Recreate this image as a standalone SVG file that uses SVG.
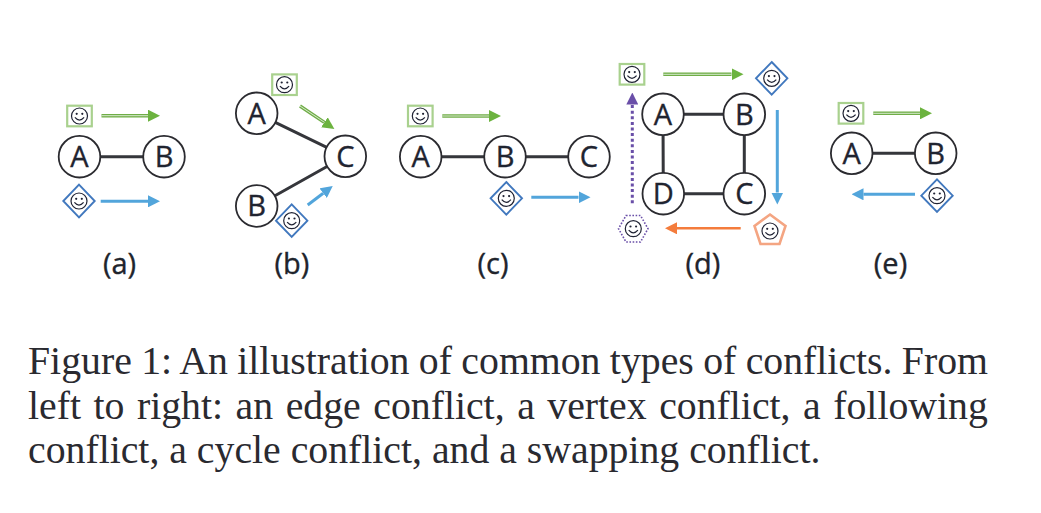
<svg xmlns="http://www.w3.org/2000/svg" width="1041" height="513" viewBox="0 0 1041 513">
<style>
.n{fill:#fff;stroke:#2b2b30;stroke-width:1.8}
.l{font:29px "Open Sans",sans-serif;fill:#1f2430;stroke:#1f2430;stroke-width:.35;text-anchor:middle}
.c{font:29px "Open Sans",sans-serif;fill:#20242c;stroke:#20242c;stroke-width:.35;text-anchor:middle}
.e{stroke:#35363b;stroke-width:3;fill:none}
.g{stroke:#70ad47;stroke-width:3.4;fill:none}
.gi{stroke:#d8ead0;stroke-width:1;fill:none}
.b{stroke:#52a5db;stroke-width:3;fill:none}
.o{stroke:#f47c3c;stroke-width:2.6;fill:none}
.p{stroke:#6a4fa8;stroke-width:3;stroke-dasharray:3 2.6;fill:none}
.cap{font:39.75px "Liberation Serif",serif;fill:#2a2a30}
.sf{fill:none;stroke:#1f2233;stroke-width:1.2}
</style>
<defs>
<marker id="ag" markerUnits="userSpaceOnUse" markerWidth="12" markerHeight="12" refX="0" refY="6" orient="auto"><path d="M0 0L12 6L0 12Z" fill="#6cb33f"/></marker>
<marker id="ab" markerUnits="userSpaceOnUse" markerWidth="12" markerHeight="12" refX="0" refY="6" orient="auto"><path d="M0 0L12 6L0 12Z" fill="#52a5db"/></marker>
<marker id="ao" markerUnits="userSpaceOnUse" markerWidth="12" markerHeight="12" refX="0" refY="6" orient="auto"><path d="M0 0L12 6L0 12Z" fill="#f47c3c"/></marker>
<marker id="ap" markerUnits="userSpaceOnUse" markerWidth="12" markerHeight="12" refX="0" refY="6" orient="auto"><path d="M0 0L12 6L0 12Z" fill="#6a4fa8"/></marker>
<g id="s"><circle r="8" class="sf"/><circle cx="-2.8" cy="-2.2" r="1.1" fill="#1f2233"/><circle cx="2.8" cy="-2.2" r="1.1" fill="#1f2233"/><path d="M-4.6 1.4Q0 6.8 4.6 1.4" class="sf"/></g>
<g id="box"><rect x="-12.3" y="-10.3" width="24.6" height="20.6" fill="#fff" stroke="#a9d18e" stroke-width="2.2"/><use href="#s"/></g>
<g id="dia"><path d="M0-16.3L15.7 0L0 16.3L-15.7 0Z" fill="#fff" stroke="#4178be" stroke-width="1.9"/><use href="#s"/></g>
</defs>
<g id="connectors">
<path class="e" d="M79 156.7H164M256.7 113.3L345.3 156.3M256.7 206L345.3 156.3M421 156.7H589M663 114.3H744.3V193.7H663.3ZM851.7 153.3H935.7"/>
<path class="g" marker-end="url(#ag)" d="M101.5 115.7H148"/><path class="gi" d="M101.5 115.7H148"/>
<path class="g" marker-end="url(#ag)" d="M300 106L324.4 122.3"/><path class="gi" d="M300 106L324.4 122.3"/>
<path class="g" marker-end="url(#ag)" d="M442.3 116H489"/><path class="gi" d="M442.3 116H489"/>
<path class="g" marker-end="url(#ag)" d="M663.3 74.3H731.5"/><path class="gi" d="M663.3 74.3H731.5"/>
<path class="g" marker-end="url(#ag)" d="M873.3 113.3H920"/><path class="gi" d="M873.3 113.3H920"/>
<path class="b" marker-end="url(#ab)" d="M100.7 201.3H148"/>
<path class="b" marker-end="url(#ab)" d="M307.7 205L323.2 193.2"/>
<path class="b" marker-end="url(#ab)" d="M531.3 197.3H578.5"/>
<path class="b" marker-end="url(#ab)" d="M777.3 110V192.5"/>
<path class="b" marker-end="url(#ab)" d="M915 194.3H863.5"/>
<path class="o" marker-end="url(#ao)" d="M740.7 228.3H677"/>
<path class="p" marker-end="url(#ap)" d="M632.3 203.3V104.5"/>
</g>
<g id="node-a-A"><circle class="n" cx="79.5" cy="156.7" r="20.8"/><text class="l" x="79.5" y="167">A</text></g>
<g id="node-a-B"><circle class="n" cx="164" cy="156.7" r="20.8"/><text class="l" x="164" y="167">B</text></g>
<g id="node-b-A"><circle class="n" cx="256.7" cy="113.3" r="20.8"/><text class="l" x="256.7" y="123.6">A</text></g>
<g id="node-b-B"><circle class="n" cx="256.7" cy="206" r="20.8"/><text class="l" x="256.7" y="216.3">B</text></g>
<g id="node-b-C"><circle class="n" cx="345.3" cy="156.3" r="20.8"/><text class="l" x="345.3" y="166.6">C</text></g>
<g id="node-c-A"><circle class="n" cx="420.7" cy="156.7" r="20.8"/><text class="l" x="420.7" y="167">A</text></g>
<g id="node-c-B"><circle class="n" cx="505" cy="156.7" r="20.8"/><text class="l" x="505" y="167">B</text></g>
<g id="node-c-C"><circle class="n" cx="589" cy="156.7" r="20.8"/><text class="l" x="589" y="167">C</text></g>
<g id="node-d-A"><circle class="n" cx="663" cy="114.3" r="20.8"/><text class="l" x="663" y="124.6">A</text></g>
<g id="node-d-B"><circle class="n" cx="744.3" cy="114.3" r="20.8"/><text class="l" x="744.3" y="124.6">B</text></g>
<g id="node-d-C"><circle class="n" cx="744.3" cy="193.7" r="20.8"/><text class="l" x="744.3" y="204">C</text></g>
<g id="node-d-D"><circle class="n" cx="663.3" cy="193.7" r="20.8"/><text class="l" x="663.3" y="204">D</text></g>
<g id="node-e-A"><circle class="n" cx="851.7" cy="153.3" r="20.8"/><text class="l" x="851.7" y="163.6">A</text></g>
<g id="node-e-B"><circle class="n" cx="935.7" cy="153.3" r="20.8"/><text class="l" x="935.7" y="163.6">B</text></g>
<g id="agent-a1"><use href="#box" x="79.5" y="116"/></g>
<g id="agent-a2"><use href="#dia" x="79" y="201"/></g>
<g id="agent-b1"><use href="#box" x="284.5" y="84.7"/></g>
<g id="agent-b2"><use href="#dia" x="291.7" y="220.7"/></g>
<g id="agent-c1"><use href="#box" x="420.3" y="116"/></g>
<g id="agent-c2"><use href="#dia" x="506.3" y="198.3"/></g>
<g id="agent-d1"><use href="#box" x="632" y="74.3"/></g>
<g id="agent-d2"><use href="#dia" x="771.7" y="78.3"/></g>
<g id="agent-d3"><path d="M770 214.5L785.5 226L779.5 244H760.5L754.5 226Z" fill="#fff" stroke="#f4a582" stroke-width="2.6"/><use href="#s" x="770" y="231"/></g>
<g id="agent-d4"><path d="M626 215.5H640.5L648 228.7L640.5 242H626L618.5 228.7Z" fill="#fff" stroke="#6a4fa8" stroke-width="1.6" stroke-dasharray="1.6 1.6"/><use href="#s" x="633.3" y="228.7"/></g>
<g id="agent-e1"><use href="#box" x="851" y="113.3"/></g>
<g id="agent-e2"><use href="#dia" x="937" y="195.7"/></g>
<g id="labels">
<text class="c" x="119.5" y="274">(a)</text>
<text class="c" x="292" y="274">(b)</text>
<text class="c" x="493" y="274">(c)</text>
<text class="c" x="703" y="274">(d)</text>
<text class="c" x="890.5" y="274">(e)</text>
</g>
<g id="caption">
<text class="cap" x="28" y="374" word-spacing="-0.55">Figure 1: An illustration of common types of conflicts. From</text>
<text class="cap" x="28" y="419" word-spacing="2.6">left to right: an edge conflict, a vertex conflict, a following</text>
<text class="cap" x="28" y="463">conflict, a cycle conflict, and a swapping conflict.</text>
</g>
</svg>
